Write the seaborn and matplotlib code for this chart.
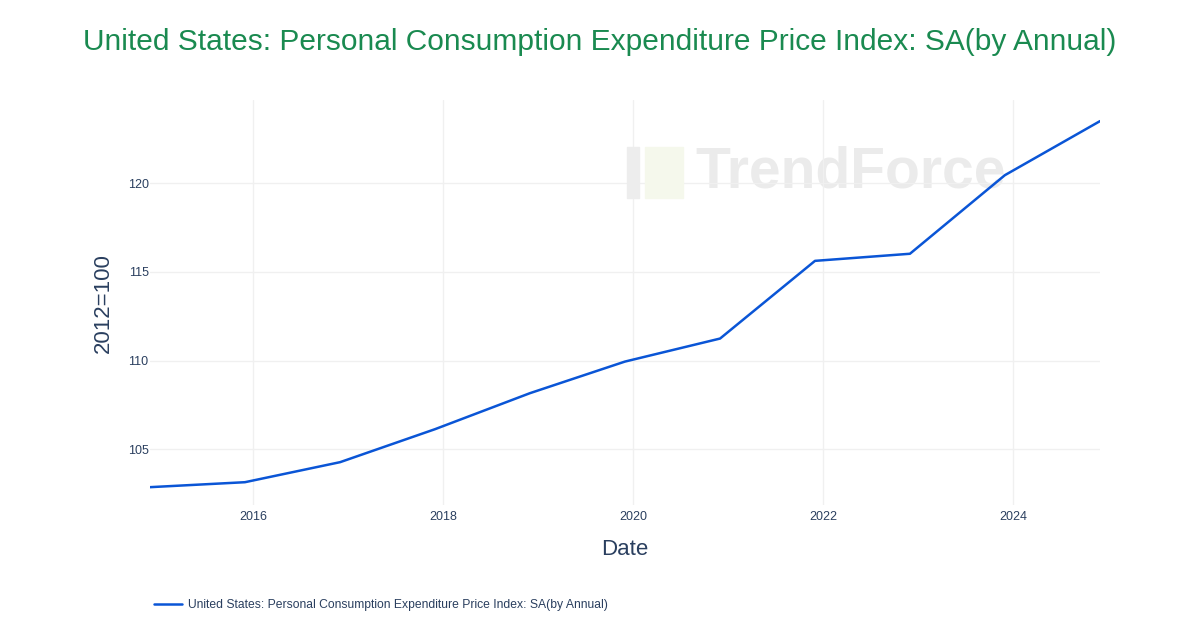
import pandas as pd
import seaborn as sns
import matplotlib.pyplot as plt
import matplotlib.dates as mdates
from matplotlib.patches import Rectangle

# annual PCE price index, 2012=100
dates = ["2014-12-01", "2015-12-01", "2016-12-01", "2017-12-01", "2018-12-01",
         "2019-12-01", "2020-12-01", "2021-12-01", "2022-12-01", "2023-12-01",
         "2024-12-01"]
values = [102.86, 103.14, 104.27, 106.13, 108.16, 109.94, 111.24, 115.62,
          116.02, 120.45, 123.50]
series_name = "United States: Personal Consumption Expenditure Price Index: SA(by Annual)"

df = pd.DataFrame({"Date": pd.to_datetime(dates), "value": values})

sns.set_theme(style="white")
plt.rcParams['font.family'] = ['Liberation Sans', 'DejaVu Sans']
txt = "#2a3f5f"

fig = plt.figure(figsize=(12, 6.3), dpi=100)
ax = fig.add_axes([0.125, 0.198, 0.7917, 0.643])

sns.lineplot(data=df, x="Date", y="value", color="#0a55d6", linewidth=1.8,
             label=series_name, ax=ax)

ax.set_xlim(pd.Timestamp("2014-12-01"), pd.Timestamp("2024-12-01"))
ax.set_ylim(101.84, 124.68)
ax.set_yticks([105, 110, 115, 120])
ax.xaxis.set_major_locator(mdates.YearLocator(2))
ax.xaxis.set_major_formatter(mdates.DateFormatter("%Y"))
ax.grid(True, color="#f0f0f0", linewidth=1)
for s in ax.spines.values():
    s.set_visible(False)
ax.tick_params(axis="y", length=0, labelsize=9, labelcolor=txt, pad=1)
ax.tick_params(axis="x", length=0, labelsize=9, labelcolor=txt, pad=4)

ax.set_xlabel("Date", fontsize=16, color=txt, labelpad=12)
ax.set_ylabel("2012=100", fontsize=16, color=txt, labelpad=10)

# watermark
ax.text(0.574, 0.822, "TrendForce", transform=ax.transAxes, fontsize=41,
        fontweight="bold", color="#ebebeb", ha="left", va="center", zorder=0)
fig.patches.append(Rectangle((627 / 1200, 1 - 198 / 630), 12 / 1200, 51 / 630,
                             transform=fig.transFigure, color="#ededed", zorder=0))
fig.patches.append(Rectangle((645 / 1200, 1 - 198 / 630), 38 / 1200, 51 / 630,
                             transform=fig.transFigure, color="#f5f8ec", zorder=0))

fig.suptitle(series_name, x=0.5, y=0.955, fontsize=21.5, color="#1a8a50")

leg = ax.legend(loc="upper left", bbox_to_anchor=(-0.007, -0.205), frameon=False,
                fontsize=8.75, handlelength=2.3, handletextpad=0.5, labelcolor=txt)

fig.savefig("out.png", dpi=100)
